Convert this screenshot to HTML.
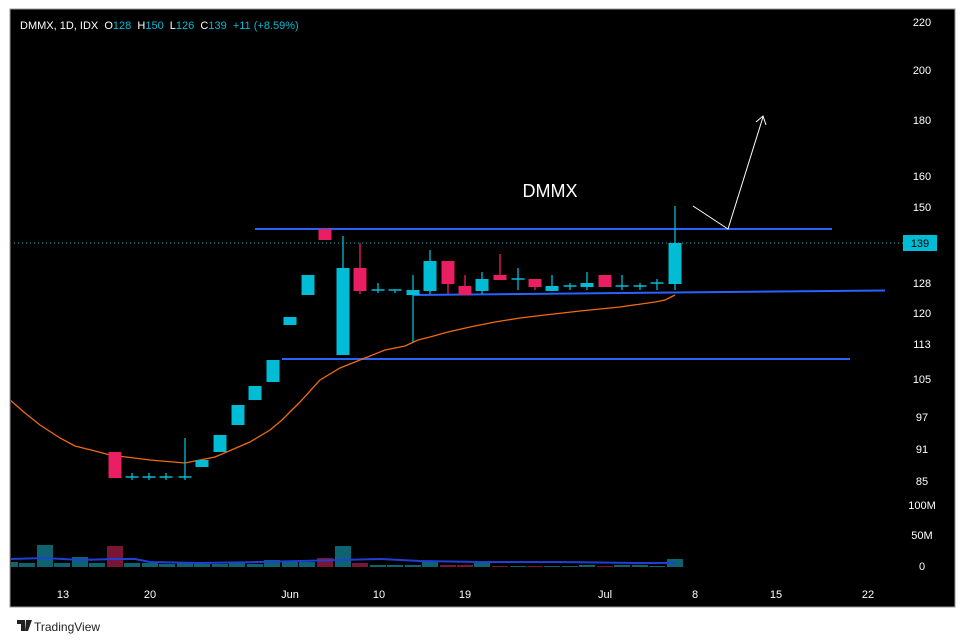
<!DOCTYPE html>
<html><head><meta charset="utf-8"><style>
html,body{margin:0;padding:0;background:#fff;width:965px;height:643px;overflow:hidden}
svg{display:block}
text{font-family:"Liberation Sans",sans-serif}
</style></head><body>
<svg id="s" width="965" height="643" xmlns="http://www.w3.org/2000/svg">
<defs><clipPath id="cp"><rect x="11" y="10" width="943" height="596"/></clipPath></defs>
<rect x="10" y="9" width="945" height="598" fill="#000" stroke="#9a9a9a" stroke-width="1"/>
<g id="g" clip-path="url(#cp)"></g>
<text x="20" y="29" font-size="11" fill="#fff" style="white-space:pre" xml:space="preserve">DMMX, 1D, IDX  O<tspan fill="#00bcd4">128</tspan>  H<tspan fill="#00bcd4">150</tspan>  L<tspan fill="#00bcd4">126</tspan>  C<tspan fill="#00bcd4">139</tspan>  <tspan fill="#00bcd4">+11 (+8.59%)</tspan></text>
<g font-size="11" fill="#fff" text-anchor="middle">
<text x="922" y="26">220</text><text x="922" y="74">200</text><text x="922" y="124">180</text>
<text x="922" y="180">160</text><text x="922" y="211">150</text><text x="922" y="287">128</text>
<text x="922" y="317">120</text><text x="922" y="348">113</text><text x="922" y="383">105</text>
<text x="922" y="421">97</text><text x="922" y="453">91</text><text x="922" y="485">85</text>
<text x="922" y="509">100M</text><text x="922" y="539">50M</text><text x="922" y="570">0</text>
<text x="63" y="598">13</text><text x="150" y="598">20</text><text x="290" y="598">Jun</text>
<text x="379" y="598">10</text><text x="465" y="598">19</text><text x="605" y="598">Jul</text>
<text x="695" y="598">8</text><text x="776" y="598">15</text><text x="868" y="598">22</text>
</g>
<text x="550" y="197" font-size="18" fill="#fff" text-anchor="middle">DMMX</text>
<path d="M17 620h8v11h-4v-7h-4z M26 620h6l-4 11h-3z" fill="#222"/>
<text x="34" y="631" font-size="12" fill="#222">TradingView</text>
</svg>
<script>
var g=document.getElementById('g'),h='';
function L(x1,y1,x2,y2,c,w,extra){h+='<line x1="'+x1+'" y1="'+y1+'" x2="'+x2+'" y2="'+y2+'" stroke="'+c+'" stroke-width="'+(w||1)+'" '+(extra||'')+'/>';}
function R(x,y,w,hh,c){h+='<rect x="'+x+'" y="'+y+'" width="'+w+'" height="'+hh+'" fill="'+c+'"/>';}
var vol=[[10,562,1],[27,563,1],[45,545,1],[62,563,1],[80,557,1],[97,563,1],[115,546,0],[132,563,1],[150,563,1],[167,564,1],[185,562,1],[202,564,1],[220,564,1],[237,563,1],[255,564,1],[272,560,1],[290,562,1],[307,562,1],[325,558,0],[343,546,1],[360,563,0],[378,565,1],[395,565,1],[413,565,1],[430,562,1],[448,565,0],[465,565,0],[482,563,1],[500,566,0],[518,566,1],[535,566,0],[552,566,1],[570,566,1],[587,565,1],[605,566,0],[622,565,1],[640,565,1],[657,566,1],[675,559,1]];
vol.forEach(function(v){R(v[0]-8,v[1],16,567-v[1],v[2]?'#0d6470':'#7a1535');});
h+='<polyline fill="none" stroke="#1e40d8" stroke-width="2" points="10,559 45,558 80,560 115,559 135,559 150,562 200,563 260,562 300,561 340,560 380,559 420,561 480,562 560,562 640,563 675,563"/>';
L(10,243,903,243,'#00bcd4',1,'stroke-dasharray="1 3"');
L(255,229,832,229,'#2962ff',2);
L(413,295,885,290.5,'#2962ff',2);
L(282,359,850,359,'#2962ff',2);
h+='<polyline fill="none" stroke="#f06a10" stroke-width="1.3" points="10,400 25,413 40,425 60,438 75,446 95,451 110,455 150,460 185,463 215,457 250,442 270,430 282,420 300,402 320,380 340,368 360,360 385,350 405,346 418,340 430,337 448,332 470,327 495,322 520,318 545,315 580,311 620,307 655,302 665,300 675,295"/>';
var c=[[115,452,478,452,478,0],[132,477,477,473,480,2],[149,477,477,473,480,2],[166,477,477,473,480,2],[185,477,477,438,480,2],[202,460,467,460,467,1],[220,435,452,435,452,1],[238,405,425,405,425,1],[255,386,400,386,400,1],[273,360,382,360,382,1],[290,317,325,317,325,1],[308,275,295,275,295,1],[325,229,240,229,240,0],[343,268,355,236,355,1],[360,268,291,243,294,0],[378,290,290,283,293,2],[395,290,290,290,293,2],[413,290,295,275,342,1],[430,261,291,250,294,1],[448,261,284,261,294,0],[465,286,295,275,295,0],[482,279,291,272,294,1],[500,275,280,254,280,0],[518,279,279,268,290,2],[535,279,287,279,290,0],[552,286,291,275,291,1],[570,286,286,283,290,2],[587,283,287,272,290,1],[605,275,287,275,287,0],[622,286,286,275,290,2],[640,286,286,283,290,2],[657,283,283,279,290,2],[675,243,284,206,290,1]];
c.forEach(function(k){var col=k[5]==0?'#e91e63':'#00bcd4';L(k[0],k[3],k[0],k[4],col,1.3);
 if(k[5]==2){L(k[0]-6.5,k[1],k[0]+6.5,k[1],col,1.5);}else{R(k[0]-6.5,Math.min(k[1],k[2]),13,Math.max(2,Math.abs(k[2]-k[1])),col);}});
h+='<polyline fill="none" stroke="#fff" stroke-width="1" points="693,206 728,229 763,117"/>';
h+='<polyline fill="none" stroke="#fff" stroke-width="1" points="756,122 763,116 766,125"/>';
R(903,235,34,16,'#00bcd4');
h+='<text x="920" y="247" font-size="11" fill="#000" text-anchor="middle">139</text>';
g.innerHTML=h;
</script>
</body></html>
